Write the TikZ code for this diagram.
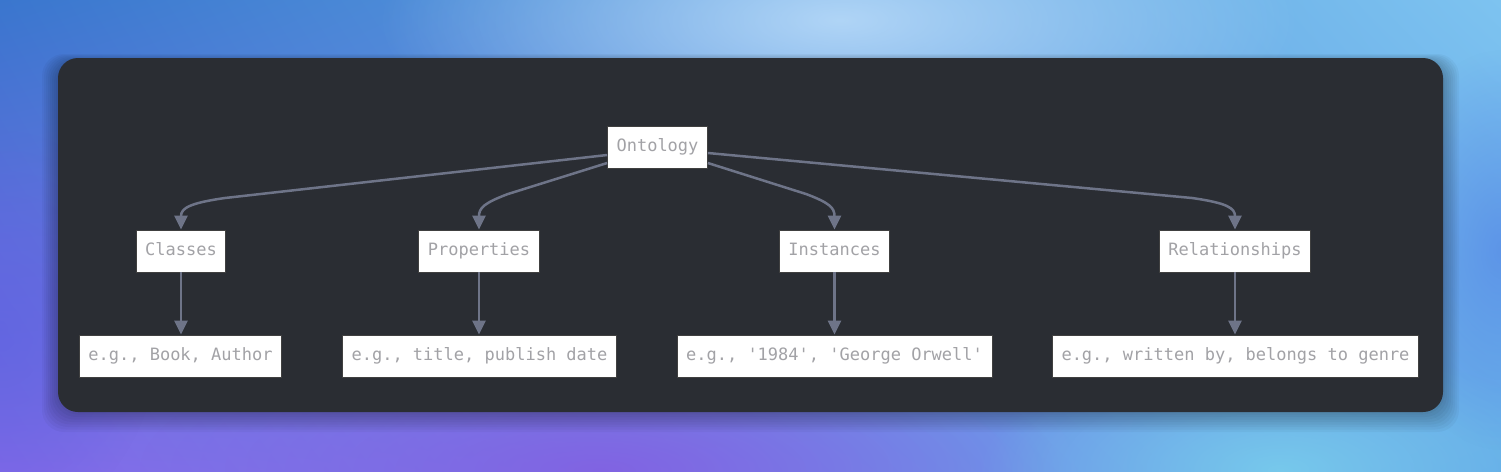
\documentclass[tikz,border=0pt]{standalone}
\usepackage{fontspec}
\setmonofont{DejaVu Sans Mono}
\usetikzlibrary{arrows.meta,fadings,shadings}
\definecolor{panel}{HTML}{2A2D33}
\definecolor{edgec}{HTML}{6E7488}
\definecolor{txt}{HTML}{A2A2A6}
\definecolor{bgul}{RGB}{58,118,206}
\definecolor{bgur}{RGB}{125,195,240}
\definecolor{bgll}{RGB}{130,104,232}
\definecolor{bglr}{RGB}{100,170,232}
\definecolor{gtop}{RGB}{190,222,250}
\definecolor{gbot}{RGB}{130,96,226}
\definecolor{gbr}{RGB}{120,205,236}
\definecolor{gleft}{RGB}{95,100,225}
\definecolor{gright}{RGB}{85,135,230}
\tikzfading[name=glow, inner color=transparent!0, outer color=transparent!100]
\tikzset{
  box/.style={draw=black!75, line width=0.8pt, fill=white, text=txt, font=\ttfamily\fontsize{17}{19}\selectfont,
    minimum height=42, inner xsep=9, inner ysep=0, text height=12, text depth=3},
  link/.style={draw=edgec, line width=2.5pt, -{Triangle[length=14pt,width=13pt]}},
}
\begin{document}
\begin{tikzpicture}[x=1pt,y=-1pt]
\useasboundingbox (0,0) rectangle (1501,471);
% background
\shade[upper left=bgul, upper right=bgur, lower left=bgll, lower right=bglr]
  (0,0) rectangle (1501,471);
\fill[gtop, path fading=glow, opacity=0.85] (840,20) ellipse (460 and 160);
\fill[gbot, path fading=glow, opacity=0.9] (600,470) ellipse (460 and 140);
\fill[gbr, path fading=glow, opacity=0.9] (1280,470) ellipse (300 and 130);
\fill[gleft, path fading=glow, opacity=0.7] (0,330) ellipse (160 and 200);
\fill[gright, path fading=glow, opacity=0.7] (1501,250) ellipse (120 and 200);
% shadow
\foreach \k in {1,...,8}
  \fill[black, opacity=0.035, rounded corners=22] (58-2*\k,62-\k) rectangle (1443+2*\k,412+2.5*\k);
% panel
\fill[panel, rounded corners=20] (58,58) rectangle (1443,412);
% nodes
\node[box] (ont) at (657.5,147) {Ontology};
\node[box] (cls) at (181,251) {Classes};
\node[box] (prp) at (479,251) {Properties};
\node[box] (ins) at (834.5,251) {Instances};
\node[box] (rel) at (1235,251) {Relationships};
\node[box] (e1) at (180.5,356) {e.g., Book, Author};
\node[box] (e2) at (479.5,356) {e.g., title, publish date};
\node[box] (e3) at (834.5,356) {e.g., '1984', 'George Orwell'};
\node[box] (e4) at (1235.5,356) {e.g., written by, belongs to genre};
% helper coordinates
\coordinate (a1) at (ont.west |- 0,155);
\coordinate (a2) at (ont.west |- 0,163);
\coordinate (a3) at (ont.east |- 0,163);
\coordinate (a4) at (ont.east |- 0,153);
% edges
\draw[link] (a1) -- (225,198) .. controls (190,203) and (181,208) .. (cls.north);
\draw[link] (a2) -- (508,194) .. controls (484,203) and (479,208) .. (prp.north);
\draw[link] (a3) -- (806,194) .. controls (830,203) and (834.5,208) .. (ins.north);
\draw[link] (a4) -- (1192,198) .. controls (1227,203) and (1235,208) .. (rel.north);
\draw[link] (cls) -- (e1.north -| cls);
\draw[link] (prp) -- (e2.north -| prp);
\draw[link] (ins) -- (e3.north -| ins);
\draw[link] (rel) -- (e4.north -| rel);
\end{tikzpicture}
\end{document}
